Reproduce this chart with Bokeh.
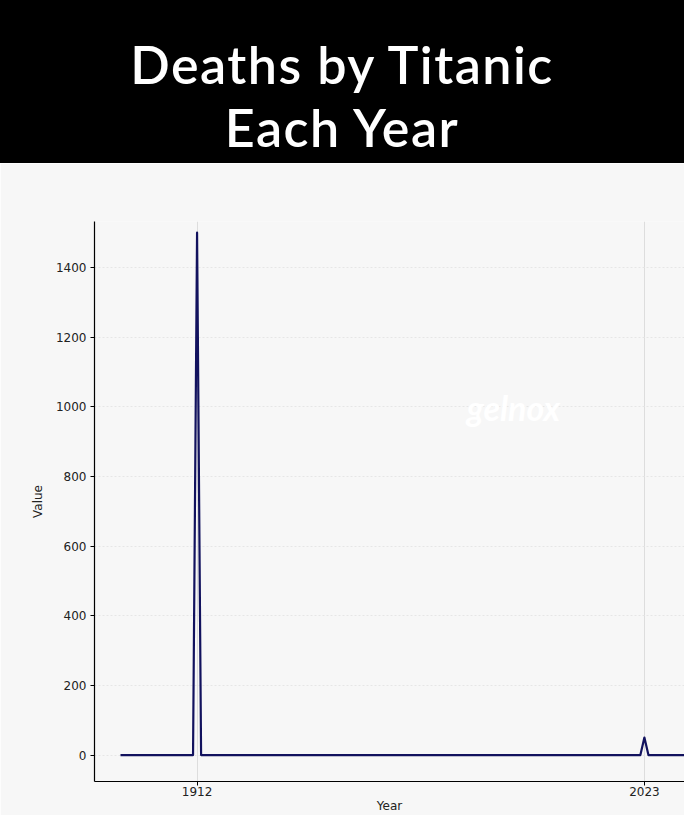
from bokeh.plotting import figure
from bokeh.layouts import column
from bokeh.models import FixedTicker, Range1d, Div
from bokeh.core.properties import value
from bokeh.embed import file_html
from bokeh.resources import INLINE

# ---- data ----
title_lines = ["Deaths by Titanic", "Each Year"]
years = [1893, 1911, 1912, 1913, 2022, 2023, 2024, 2040]
deaths = [0, 0, 1500, 0, 0, 50, 0, 0]
x_ticks = [1912, 2023]
y_ticks = [0, 200, 400, 600, 800, 1000, 1200, 1400]
x_label = "Year"
y_label = "Value"
watermark = "gelnox"

W = 684
BG = "#f7f7f7"

# ---- header (black band with title) ----
header_html = (
    '<div style="width:684px;height:163px;background:#000;color:#fff;'
    'font-family:Lato,sans-serif;font-weight:600;font-size:52px;'
    'letter-spacing:1.5px;line-height:63px;text-align:center;'
    'box-sizing:border-box;padding-top:33px;margin:0;">'
    + "<br>".join(title_lines) + "</div>"
)
h = Div(text=header_html, width=W, height=163, margin=0,
        styles={"background-color": "black"})

# ---- chart ----
p = figure(width=W, height=652, x_range=Range1d(1886.55, 2032.95),
           y_range=Range1d(-76, 1532),
           toolbar_location=None, output_backend="svg",
           min_border_left=94, min_border_right=0,
           min_border_top=58, min_border_bottom=34)
p.background_fill_color = BG
p.border_fill_color = BG
p.outline_line_color = None

p.line(years, deaths, line_color="#12125e", line_width=2.2, line_join="round")

p.text(x=[1990.5], y=[997], text=[watermark], text_align="center",
       text_baseline="middle", text_color="white",
       text_font=value("Lato"), text_font_style="bold italic",
       text_font_size="34px")

p.xaxis.ticker = FixedTicker(ticks=x_ticks)
p.yaxis.ticker = FixedTicker(ticks=y_ticks)
p.xaxis.axis_label = x_label
p.yaxis.axis_label = y_label
for ax in (p.xaxis[0], p.yaxis[0]):
    ax.axis_line_color = "black"
    ax.axis_line_width = 1.2
    ax.major_tick_line_color = "black"
    ax.major_tick_out = 4
    ax.major_tick_in = 0
    ax.minor_tick_line_color = None
    ax.major_label_text_font = "DejaVu Sans"
    ax.major_label_text_font_size = "12px"
    ax.major_label_text_color = "#222222"
    ax.axis_label_text_font = "DejaVu Sans"
    ax.axis_label_text_font_size = "12px"
    ax.axis_label_text_font_style = "normal"
    ax.axis_label_text_color = "#222222"
p.xaxis.major_label_standoff = 1
p.xaxis.axis_label_standoff = 0
p.yaxis.major_label_standoff = 4
p.yaxis.axis_label_standoff = 8

p.xgrid.grid_line_color = "#dddddd"
p.xgrid.grid_line_width = 1
p.ygrid.grid_line_color = "#e6e6e6"
p.ygrid.grid_line_width = 1
p.ygrid.grid_line_dash = "2 2"

layout = column(h, p, spacing=0)
open("out.html", "w").write(file_html(layout, INLINE))
